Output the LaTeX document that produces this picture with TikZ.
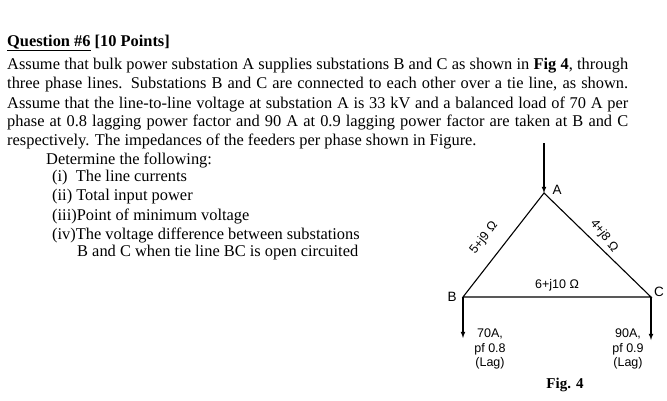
\documentclass[tikz,border=0pt]{standalone}
\usepackage{fontspec}
\setmainfont{Liberation Serif}
\newfontfamily\arialf{Liberation Sans}
\begin{document}
\begin{tikzpicture}[x=1pt,y=-1pt,
  txt/.style={anchor=west,inner sep=0pt,font=\fontsize{16.4}{18}\selectfont},
  lbl/.style={inner sep=0pt,font=\arialf\fontsize{12.5}{14.5}\selectfont},
  wire/.style={line width=1.1pt},
  arr/.style={line width=1.1pt,-latex}]
\useasboundingbox (0,0) rectangle (667,400);
\node[txt] (q) at (7,43) {\textbf{\underline{Question \#6}} \textbf{[10 Points]}};
\node[txt] (l1) at (7,66) {\makebox[621pt][s]{Assume that bulk power substation A supplies substations B and C as shown in \textbf{Fig 4}, through}};
\node[txt] (l2) at (7,85) {\makebox[621pt][s]{three phase lines. Substations B and C are connected to each other over a tie line, as shown.}};
\node[txt] (l3) at (7,104) {\makebox[621pt][s]{Assume that the line-to-line voltage at substation A is 33 kV and a balanced load of 70 A per}};
\node[txt] (l4) at (7,122) {\makebox[621pt][s]{phase at 0.8 lagging power factor and 90 A at 0.9 lagging power factor are taken at B and C}};
\node[txt] (l5) at (7,141) {respectively. The impedances of the feeders per phase shown in Figure.};
\node[txt] (l6) at (46,160) {Determine the following:};
\node[txt] (l7) at (52,178) {(i)\ \ The line currents};
\node[txt] (l8) at (52,197) {(ii) Total input power};
\node[txt] (l9) at (52,216) {(iii)Point of minimum voltage};
\node[txt] (l10) at (52,235) {(iv)The voltage difference between substations};
\node[txt] (l11) at (77,253) {B and C when tie line BC is open circuited};
% diagram
\coordinate (A) at (544,193);
\coordinate (B) at (463,297);
\coordinate (C) at (651,297);
\coordinate (S) at (544,143);
\coordinate (Bd) at (463,338);
\coordinate (Cd) at (651,340);
\draw[wire] (A) -- (B) -- (C) -- cycle;
\draw[arr] (S) -- (A);
\draw[arr] (B) -- (Bd);
\draw[arr] (C) -- (Cd);
\node[lbl] (nA) at (557,190) {\fontsize{13.5}{15}\selectfont A};
\node[lbl] (nB) at (452,297) {\fontsize{13.5}{15}\selectfont B};
\node[lbl] (nC) at (659,292) {\fontsize{13.5}{15}\selectfont C};
\node[lbl,rotate=52] (z1) at (484,238) {5+j9 Ω};
\node[lbl,rotate=-52] (z2) at (604,236) {4+j8 Ω};
\node[lbl] (z3) at (557,285) {6+j10 Ω};
\node[lbl,align=center] (ld1) at (490,349) {70A,\\pf 0.8\\(Lag)};
\node[lbl,align=center] (ld2) at (628,349) {90A,\\pf 0.9\\(Lag)};
\node[inner sep=0pt,font=\bfseries\fontsize{15}{17}\selectfont] (fig) at (565,385) {Fig. 4};
\end{tikzpicture}
\end{document}
